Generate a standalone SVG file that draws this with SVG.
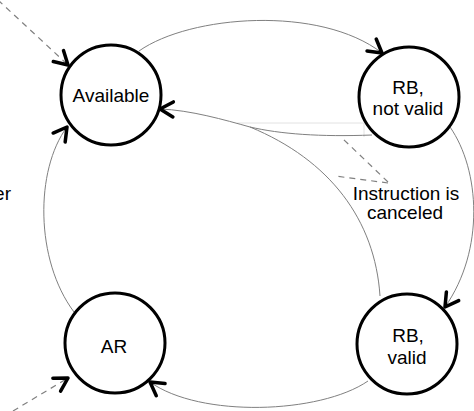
<svg xmlns="http://www.w3.org/2000/svg" width="474" height="411" viewBox="0 0 474 411">
<style>
.node circle{fill:#fff;stroke:#000;stroke-width:3}
.lbl{font-family:"Liberation Sans",Arial,Helvetica,sans-serif;font-size:19px;fill:#000;text-anchor:middle}
.edge{fill:none;stroke:#808080;stroke-width:1}
.dash{fill:none;stroke:#808080;stroke-width:1.2;stroke-dasharray:6 5}
.faint{fill:none;stroke:#e2e2e2;stroke-width:1}
</style>
<defs>
<marker id="arr" markerUnits="userSpaceOnUse" markerWidth="20" markerHeight="20" viewBox="-12 -8 14 16" refX="0" refY="0" orient="auto">
<path d="M-10.5,-6 L0,0 L-10.5,6" fill="none" stroke="#000" stroke-width="2.8" stroke-linecap="round" stroke-linejoin="round"/>
</marker>
</defs>
<g id="connectors">
<path class="dash" d="M-2 0 L68 65" marker-end="url(#arr)"/>
<path class="dash" d="M13 411 L68 378" marker-end="url(#arr)"/>
<path class="edge" d="M139 51 C190 15 320 5 382 53" marker-end="url(#arr)"/>
<path class="faint" d="M237 123 L364 123 L364 137"/>
<path class="edge" d="M372 135 C320 137 280 134 250 127"/>
<path class="edge" d="M380 296 C375 220 330 160 250 127 C225 120 190 110 160 109" marker-end="url(#arr)"/>
<path class="edge" d="M450 127 C480 170 485 250 445 307" marker-end="url(#arr)"/>
<path class="edge" d="M368 381 C320 414 200 418 150 382" marker-end="url(#arr)"/>
<path class="edge" d="M74 312 C35 260 35 170 67 127" marker-end="url(#arr)"/>
<path class="dash" d="M388 182 L342 138"/>
<path class="dash" d="M388 183 L335 176"/>
</g>
<g id="available" class="node">
<circle cx="111" cy="95" r="50"/>
<text class="lbl" x="111" y="102">Available</text>
</g>
<g id="rb-not-valid" class="node">
<circle cx="409" cy="97" r="50"/>
<text class="lbl" x="408" y="94">RB,</text>
<text class="lbl" x="408" y="115">not valid</text>
</g>
<g id="ar" class="node">
<circle cx="115" cy="343" r="50"/>
<text class="lbl" x="114" y="353">AR</text>
</g>
<g id="rb-valid" class="node">
<circle cx="407" cy="344" r="50"/>
<text class="lbl" x="408" y="342">RB,</text>
<text class="lbl" x="407" y="364">valid</text>
</g>
<g id="labels">
<text class="lbl" x="406" y="200">Instruction is</text>
<text class="lbl" x="405" y="219">canceled</text>
<text class="lbl" x="11" y="200" style="text-anchor:end">er</text>
</g>
</svg>
